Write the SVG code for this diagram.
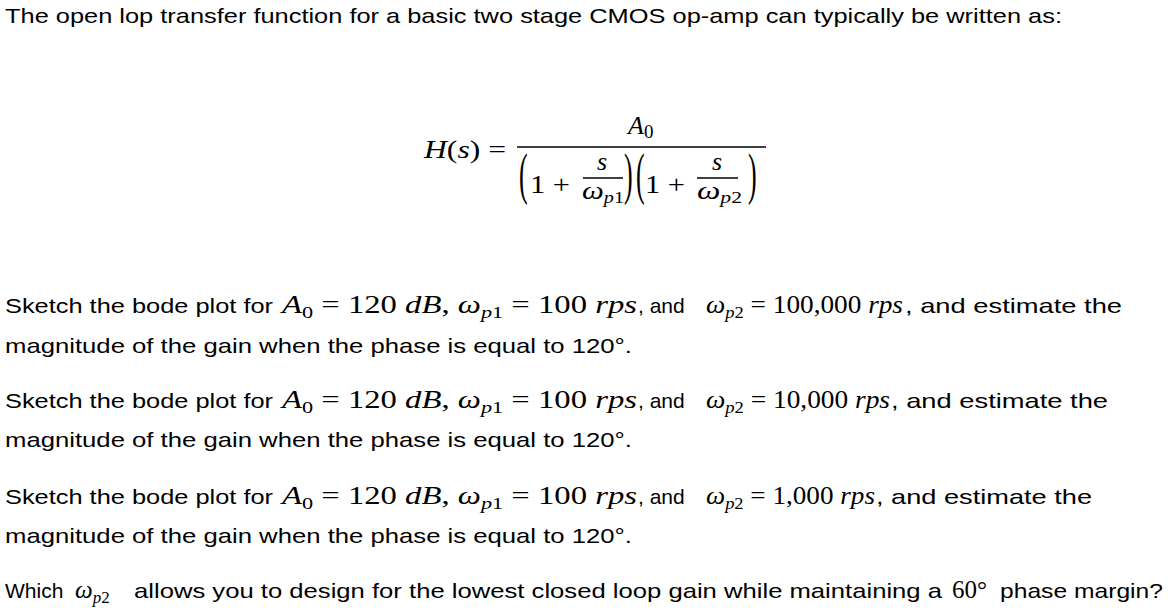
<svg xmlns="http://www.w3.org/2000/svg" width="1168" height="613" viewBox="0 0 1168 613">
<style>
.t{font-family:"Liberation Sans",Arial,sans-serif;font-size:21px;fill:#000}
.m{font-family:"Liberation Serif","DejaVu Serif",serif;font-size:25px;fill:#000}
.f{font-family:"Liberation Serif","DejaVu Serif",serif;font-size:26px;fill:#000}
.i{font-style:italic}
.s{font-size:17px}
</style>
<rect width="1168" height="613" fill="#fff"/>
<text class="t" x="5" y="23" textLength="1057" lengthAdjust="spacingAndGlyphs">The open lop transfer function for a basic two stage CMOS op-amp can typically be written as:</text>
<g id="formula">
<text class="f" x="424" y="158" textLength="82" lengthAdjust="spacingAndGlyphs"><tspan class="i">H</tspan>(<tspan class="i">s</tspan>) =</text>
<line x1="517" y1="147" x2="766" y2="147" stroke="#000" stroke-width="1.5"/>
<text class="f" x="628" y="134"><tspan class="i">A</tspan><tspan font-size="19" dy="4">0</tspan></text>
<text class="f" transform="translate(519 175) scale(1 2.2)" x="0" y="8">(</text>
<text class="f" x="530" y="193" textLength="40" lengthAdjust="spacingAndGlyphs">1 +</text>
<text class="f i" x="597" y="170" font-size="23">s</text>
<line x1="583" y1="178" x2="623" y2="178" stroke="#000" stroke-width="1.3"/>
<text class="f" x="582" y="199" font-size="24" textLength="42" lengthAdjust="spacingAndGlyphs"><tspan class="i">ω</tspan><tspan class="i" font-size="17" dy="4">p</tspan><tspan font-size="17">1</tspan></text>
<text class="f" transform="translate(624 175) scale(1 2.2)" x="0" y="8">)</text>
<text class="f" transform="translate(636 175) scale(1 2.2)" x="0" y="8">(</text>
<text class="f" x="645" y="193" textLength="40" lengthAdjust="spacingAndGlyphs">1 +</text>
<text class="f i" x="712" y="170" font-size="23">s</text>
<line x1="697" y1="178" x2="738" y2="178" stroke="#000" stroke-width="1.3"/>
<text class="f" x="697" y="199" font-size="24" textLength="45" lengthAdjust="spacingAndGlyphs"><tspan class="i">ω</tspan><tspan class="i" font-size="17" dy="4">p</tspan><tspan font-size="17">2</tspan></text>
<text class="f" transform="translate(748 175) scale(1 2.2)" x="0" y="8">)</text>
</g>
<g id="p1">
<text class="t" x="5" y="313" textLength="268" lengthAdjust="spacingAndGlyphs">Sketch the bode plot for</text>
<text class="m" x="282" y="313" textLength="355" lengthAdjust="spacingAndGlyphs"><tspan class="i">A</tspan><tspan class="s" dy="5">0</tspan><tspan dy="-5"> = 120 </tspan><tspan class="i">dB</tspan>, <tspan class="i">ω</tspan><tspan class="i s" dy="5">p</tspan><tspan class="s">1</tspan><tspan dy="-5"> = 100 </tspan><tspan class="i">rps</tspan></text>
<text class="t" x="638" y="313">, and</text>
<text class="m" x="706" y="313" textLength="197" lengthAdjust="spacingAndGlyphs"><tspan class="i">ω</tspan><tspan class="i s" dy="5">p</tspan><tspan class="s">2</tspan><tspan dy="-5"> = 100,000 </tspan><tspan class="i">rps</tspan></text>
<text class="t" x="905" y="313" textLength="217" lengthAdjust="spacingAndGlyphs">, and estimate the</text>
<text class="t" x="5" y="353" textLength="627" lengthAdjust="spacingAndGlyphs">magnitude of the gain when the phase is equal to 120°.</text>
</g>
<g id="p2">
<text class="t" x="5" y="408" textLength="268" lengthAdjust="spacingAndGlyphs">Sketch the bode plot for</text>
<text class="m" x="282" y="408" textLength="355" lengthAdjust="spacingAndGlyphs"><tspan class="i">A</tspan><tspan class="s" dy="5">0</tspan><tspan dy="-5"> = 120 </tspan><tspan class="i">dB</tspan>, <tspan class="i">ω</tspan><tspan class="i s" dy="5">p</tspan><tspan class="s">1</tspan><tspan dy="-5"> = 100 </tspan><tspan class="i">rps</tspan></text>
<text class="t" x="638" y="408">, and</text>
<text class="m" x="706" y="408" textLength="184" lengthAdjust="spacingAndGlyphs"><tspan class="i">ω</tspan><tspan class="i s" dy="5">p</tspan><tspan class="s">2</tspan><tspan dy="-5"> = 10,000 </tspan><tspan class="i">rps</tspan></text>
<text class="t" x="891" y="408" textLength="217" lengthAdjust="spacingAndGlyphs">, and estimate the</text>
<text class="t" x="5" y="447" textLength="627" lengthAdjust="spacingAndGlyphs">magnitude of the gain when the phase is equal to 120°.</text>
</g>
<g id="p3">
<text class="t" x="5" y="504" textLength="268" lengthAdjust="spacingAndGlyphs">Sketch the bode plot for</text>
<text class="m" x="282" y="504" textLength="355" lengthAdjust="spacingAndGlyphs"><tspan class="i">A</tspan><tspan class="s" dy="5">0</tspan><tspan dy="-5"> = 120 </tspan><tspan class="i">dB</tspan>, <tspan class="i">ω</tspan><tspan class="i s" dy="5">p</tspan><tspan class="s">1</tspan><tspan dy="-5"> = 100 </tspan><tspan class="i">rps</tspan></text>
<text class="t" x="638" y="504">, and</text>
<text class="m" x="706" y="504" textLength="169" lengthAdjust="spacingAndGlyphs"><tspan class="i">ω</tspan><tspan class="i s" dy="5">p</tspan><tspan class="s">2</tspan><tspan dy="-5"> = 1,000 </tspan><tspan class="i">rps</tspan></text>
<text class="t" x="876" y="504" textLength="216" lengthAdjust="spacingAndGlyphs">, and estimate the</text>
<text class="t" x="5" y="543" textLength="627" lengthAdjust="spacingAndGlyphs">magnitude of the gain when the phase is equal to 120°.</text>
</g>
<g id="q">
<text class="t" x="5" y="598">Which</text>
<text class="m" x="75" y="598"><tspan class="i">ω</tspan><tspan class="i s" dy="5">p</tspan><tspan class="s">2</tspan></text>
<text class="t" x="134" y="598" textLength="808" lengthAdjust="spacingAndGlyphs">allows you to design for the lowest closed loop gain while maintaining a</text>
<text class="m" x="952" y="598">60°</text>
<text class="t" x="1000" y="598" textLength="163" lengthAdjust="spacingAndGlyphs">phase margin?</text>
</g>
</svg>
